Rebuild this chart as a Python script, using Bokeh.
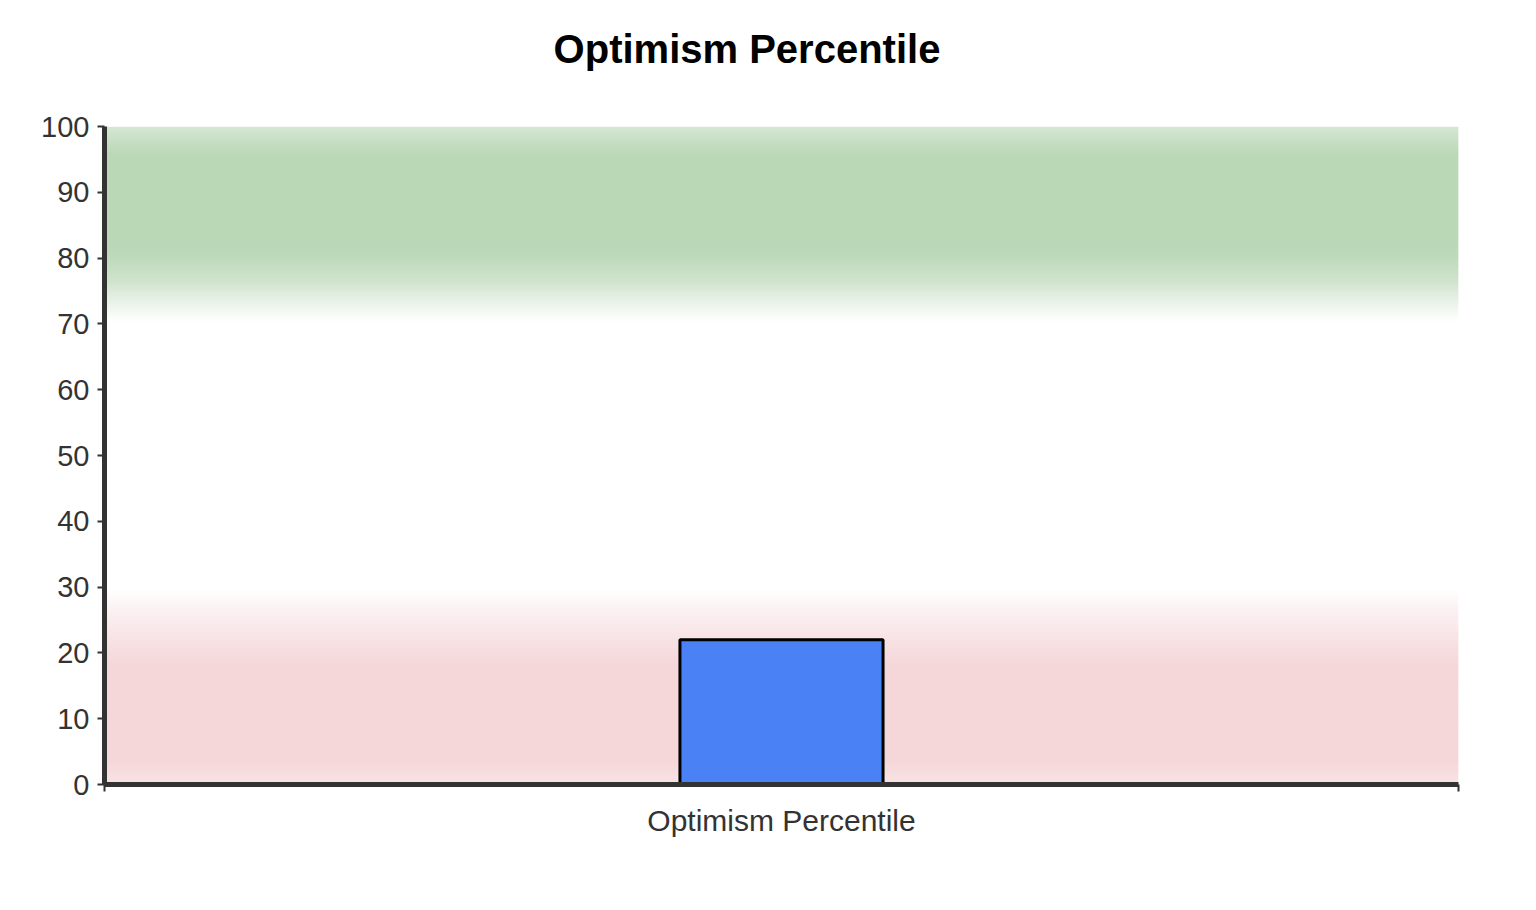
import numpy as np
from bokeh.plotting import figure
from bokeh.models import Range1d, FixedTicker, Div
from bokeh.layouts import column
from bokeh.embed import file_html
from bokeh.resources import INLINE

# --- data -------------------------------------------------------------
categories = ["Optimism Percentile"]
values = [22]
y_ticks = [0, 10, 20, 30, 40, 50, 60, 70, 80, 90, 100]

# shaded zones: (low, high)
good_zone = [70, 100]
poor_zone = [0, 30]

chart_title = "Optimism Percentile"

# --- styling ----------------------------------------------------------
FONT = "Liberation Sans"
AXIS_COLOR = "#333333"
BAR_COLOR = "#4a81f4"
GREEN = np.array([186, 215, 182])
RED = np.array([245, 215, 218])

HEADER_H = 100

x_pos = [i + 0.5 for i in range(len(categories))]

p = figure(
    width=1536, height=910 - HEADER_H,
    x_range=Range1d(0, len(categories)), y_range=Range1d(0, 100),
    output_backend="svg", toolbar_location=None,
    min_border_left=104, min_border_right=78,
    min_border_top=126 - HEADER_H, min_border_bottom=126,
    x_axis_type="linear", margin=0,
)
p.outline_line_color = None
p.xgrid.visible = False
p.ygrid.visible = False
p.background_fill_color = "white"
p.border_fill_color = "white"


def gradient_band(low, high, rgb, stop_pos, stop_alpha, n=150):
    """Fill a horizontal zone with opaque strips blended onto white,
    giving a smooth vertical gradient without seams."""
    edges = np.linspace(low, high, n + 1)
    step = edges[1] - edges[0]
    mids = (edges[:-1] + edges[1:]) / 2
    frac = (mids - low) / (high - low)
    alphas = np.interp(frac, stop_pos, stop_alpha)
    colors = []
    for a in alphas:
        c = 255 * (1 - a) + rgb * a
        colors.append("#%02x%02x%02x" % tuple(int(round(v)) for v in c))
    tops = np.minimum(edges[1:] + step * 0.6, high)
    p.quad(left=0, right=len(categories), bottom=edges[:-1], top=tops,
           fill_color=colors, line_color=None)


# green zone fades out towards its lower edge
gradient_band(good_zone[0], good_zone[1], GREEN,
              [0.0, 0.04, 0.12, 0.22, 0.33, 0.40, 0.85, 0.93, 1.0],
              [0.0, 0.08, 0.35, 0.70, 0.92, 1.0, 1.0, 0.8, 0.6])
# red zone fades out towards its upper edge
gradient_band(poor_zone[0], poor_zone[1], RED,
              [0.0, 0.06, 0.12, 0.60, 0.70, 0.80, 0.90, 0.96, 1.0],
              [0.7, 0.85, 1.0, 1.0, 0.8, 0.55, 0.3, 0.1, 0.0])

p.vbar(x=x_pos, top=values, width=0.15, fill_color=BAR_COLOR,
       line_color="black", line_width=3)

# --- axes -------------------------------------------------------------
xa = p.xaxis[0]
xa.ticker = FixedTicker(ticks=x_pos, minor_ticks=[0, len(categories)])
xa.major_label_overrides = {x: c for x, c in zip(x_pos, categories)}
xa.major_tick_line_color = None
xa.minor_tick_in = 0
xa.minor_tick_out = 7
xa.minor_tick_line_width = 2
xa.minor_tick_line_color = AXIS_COLOR
xa.major_label_standoff = 12
xa.major_label_text_font = FONT
xa.major_label_text_font_size = "30px"
xa.major_label_text_color = AXIS_COLOR

ya = p.yaxis[0]
ya.ticker = FixedTicker(ticks=y_ticks)
ya.minor_tick_line_color = None
ya.major_tick_in = 0
ya.major_tick_out = 7
ya.major_tick_line_width = 2
ya.major_tick_line_color = AXIS_COLOR
ya.major_label_standoff = 8
ya.major_label_text_font = FONT
ya.major_label_text_font_size = "29px"
ya.major_label_text_color = AXIS_COLOR

for ax in (xa, ya):
    ax.axis_line_color = AXIS_COLOR
    ax.axis_line_width = 5

# --- heading ----------------------------------------------------------
header = Div(
    text=chart_title, width=1494, height=HEADER_H, margin=0,
    styles={
        "font-family": FONT, "font-size": "40px", "font-weight": "bold",
        "color": "black", "text-align": "center", "line-height": "40px",
        "padding-top": "29px", "box-sizing": "border-box",
    },
)

layout = column(header, p, spacing=0, margin=0)

open("out.html", "w").write(file_html(layout, INLINE))
